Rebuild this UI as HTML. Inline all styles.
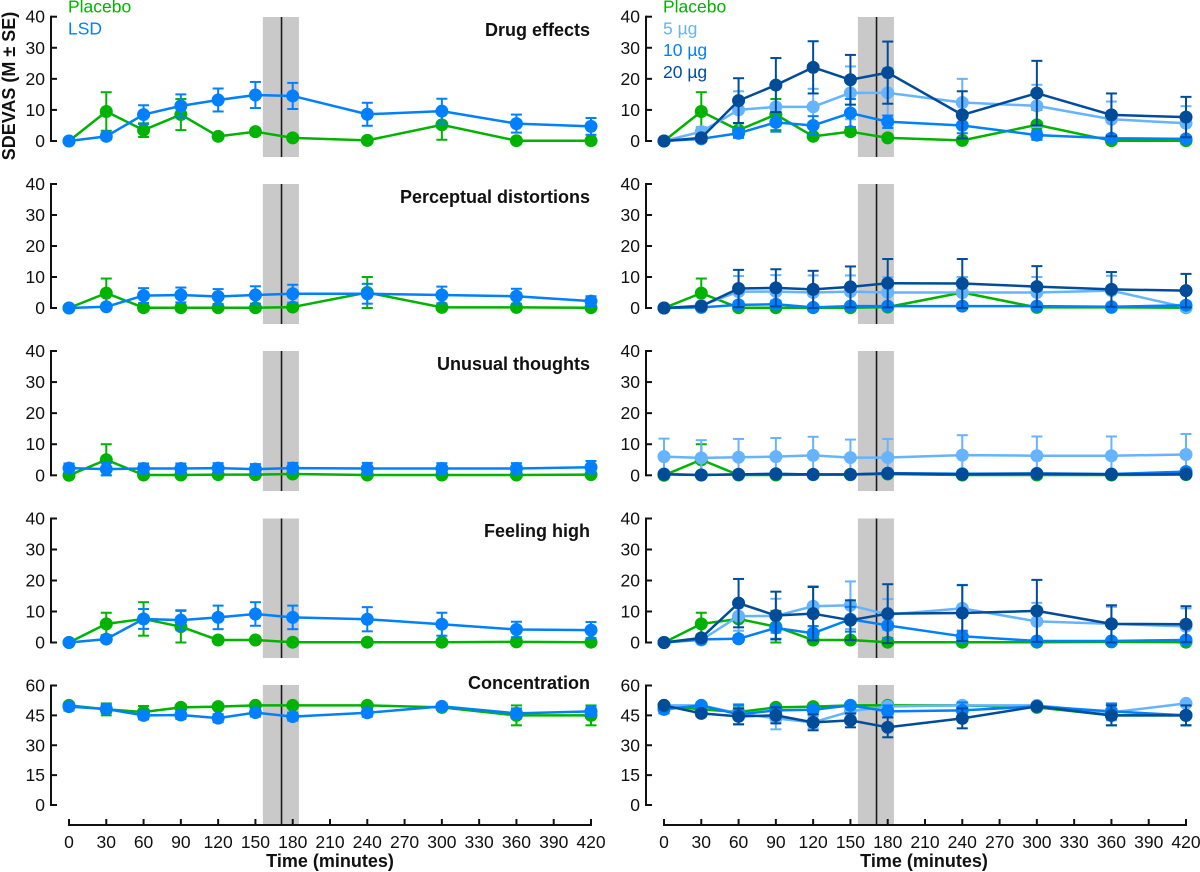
<!DOCTYPE html>
<html lang="en">
<head>
<meta charset="utf-8">
<title>SDEVAS time course</title>
<style>
html,body{margin:0;padding:0;background:#fff;}
svg{display:block;font-family:"Liberation Sans",Arial,sans-serif;}
text{fill:#111;font-size:17.5px;}
.b{font-weight:700;font-size:18px;}
</style>
</head>
<body>
<svg id="chart" xmlns="http://www.w3.org/2000/svg" width="1200" height="872" viewBox="0 0 1200 872">
  <rect x="0" y="0" width="1200" height="872" fill="#fff"/>
  <g id="plots"></g>
  <text class="b" text-anchor="middle" transform="translate(15,86) rotate(-90)">SDEVAS (M ± SE)</text>
  <text x="68" y="12.5" style="fill:#00b300">Placebo</text>
  <text x="68" y="34.5" style="fill:#0080ff">LSD</text>
  <text x="663" y="12.5" style="fill:#00b300">Placebo</text>
  <text x="663" y="34.5" style="fill:#66b3ff">5 µg</text>
  <text x="663" y="56" style="fill:#0080ff">10 µg</text>
  <text x="663" y="78" style="fill:#004c99">20 µg</text>
  <text class="b" text-anchor="end" x="590" y="36">Drug effects</text>
  <text class="b" text-anchor="end" x="590" y="203">Perceptual distortions</text>
  <text class="b" text-anchor="end" x="590" y="370">Unusual thoughts</text>
  <text class="b" text-anchor="end" x="590" y="537">Feeling high</text>
  <text class="b" text-anchor="end" x="590" y="689">Concentration</text>
  <text class="b" text-anchor="middle" x="330" y="867">Time (minutes)</text>
  <text class="b" text-anchor="middle" x="924" y="867">Time (minutes)</text>
</svg>
<script>
// Categories and tick labels
const times = [0, 30, 60, 90, 120, 150, 180, 240, 300, 360, 420];
const xTicks = [0, 30, 60, 90, 120, 150, 180, 210, 240, 270, 300, 330, 360, 390, 420];
const yTicks40 = [0, 10, 20, 30, 40];
const yTicks60 = [0, 15, 30, 45, 60];
const bandStart = 156;
const bandEnd = 185;
const infusionTime = 171;

// Drug effects
const drugPlacebo = [0, 9.5, 3.5, 8.5, 1.5, 3, 1, 0.2, 5.2, 0.1, 0.1];
const drugPlaceboErr = [0, 6.2, 2.2, 5, 0.5, 1, 0.4, 0.2, 4.8, 0.1, 0.1];
const drugLsd = [0, 1.5, 8.5, 11.3, 13.2, 14.8, 14.5, 8.6, 9.6, 5.6, 4.7];
const drugLsdErr = [0, 1, 3, 3.7, 3.7, 4.2, 4.2, 3.7, 4, 2.9, 2.7];
const drug5 = [0, 3, 10, 11, 11, 15.5, 15.5, 12.4, 11.3, 7, 5.7];
const drug5Err = [0, 1.5, 6, 6, 5.8, 8.5, 8, 7.6, 6.8, 5.7, 5.5];
const drug10 = [0, 0.7, 2.5, 6, 5, 9, 6.2, 5, 1.9, 0.9, 0.7];
const drug10Err = [0, 0.5, 1.5, 3, 3, 4.5, 2, 2.5, 1.5, 1, 0.7];
const drug20 = [0, 1, 13, 18, 23.7, 19.7, 22, 8.4, 15.4, 8.4, 7.7];
const drug20Err = [0, 1, 7.2, 8.7, 8.4, 8, 10, 7.6, 10.4, 6.9, 6.5];

// Perceptual distortions
const percPlacebo = [0, 4.8, 0.1, 0.1, 0.1, 0.1, 0.3, 5, 0.2, 0.2, 0.1];
const percPlaceboErr = [0, 4.7, 0, 0, 0, 0, 0.3, 5, 0.2, 0.2, 0.1];
const percLsd = [0, 0.4, 4, 4.2, 3.7, 4.2, 4.6, 4.6, 4.2, 3.8, 2.2];
const percLsdErr = [0, 0.5, 2.4, 2.4, 2.4, 2.8, 2.9, 3.2, 2.7, 2.4, 1.6];
const perc5 = [0, 0.8, 5.3, 5.3, 5, 5.3, 5, 5, 5, 5.6, 0.2];
const perc5Err = [0, 0.5, 5, 5.3, 5.5, 5.2, 5, 5, 5, 4.8, 0.3];
const perc10 = [0, 0.2, 1, 1.2, 0.2, 0.6, 0.6, 0.6, 0.6, 0.4, 0.9];
const perc10Err = [0, 0.2, 1, 1.2, 0.3, 0.6, 0.6, 0.8, 0.6, 0.4, 0.9];
const perc20 = [0, 0.6, 6.3, 6.5, 6, 6.8, 8, 7.9, 6.9, 6, 5.6];
const perc20Err = [0, 0.6, 6, 6, 6, 6.6, 7.8, 7.9, 6.6, 5.6, 5.4];

// Unusual thoughts
const unusPlacebo = [0, 5, 0.1, 0.1, 0.2, 0.2, 0.4, 0.1, 0.1, 0.1, 0.2];
const unusPlaceboErr = [0, 5, 0, 0, 0, 0, 0, 0, 0, 0, 0];
const unusLsd = [2.3, 2, 2.2, 2.2, 2.3, 2, 2.3, 2.2, 2.2, 2.2, 2.6];
const unusLsdErr = [1.5, 2, 1.6, 1.6, 1.6, 1.6, 1.7, 1.8, 1.7, 1.7, 2];
const unus5 = [6, 5.6, 5.8, 6, 6.4, 5.7, 5.7, 6.5, 6.3, 6.3, 6.7];
const unus5Err = [5.8, 5.7, 5.9, 6, 6, 5.8, 6, 6.4, 6.2, 6.2, 6.6];
const unus10 = [0.4, 0.1, 0.3, 0.5, 0.2, 0.2, 0.7, 0.5, 0.6, 0.4, 1.2];
const unus10Err = [0.3, 0.1, 0.3, 0.5, 0.2, 0.2, 0.7, 0.5, 0.6, 0.4, 0.9];
const unus20 = [0.3, 0.1, 0.3, 0.4, 0.3, 0.3, 0.6, 0.3, 0.5, 0.3, 0.4];
const unus20Err = [0.3, 0.1, 0.3, 0.4, 0.3, 0.3, 0.5, 0.3, 0.5, 0.3, 0.4];

// Feeling high
const highPlacebo = [0, 6, 7.6, 5.1, 0.8, 0.8, 0.1, 0.1, 0.1, 0.2, 0.1];
const highPlaceboErr = [0, 3.6, 5.4, 5.1, 0.3, 0.3, 0.1, 0, 0, 0, 0];
const highLsd = [0, 1.1, 7.6, 7.2, 8.1, 9.2, 8.1, 7.5, 5.9, 4.2, 4];
const highLsdErr = [0, 1, 3.2, 3.2, 3.8, 3.8, 3.8, 3.9, 3.7, 2.5, 2.6];
const high5 = [0, 0.8, 8.5, 8.6, 11.7, 12, 9, 11, 6.8, 6, 5.2];
const high5Err = [0, 0.6, 4.7, 5.5, 6.5, 7.7, 5, 7.6, 6, 5.5, 5.8];
const high10 = [0, 1, 1.2, 4.7, 3, 7.5, 5.5, 2, 0.5, 0.5, 0.8];
const high10Err = [0, 0.5, 1, 3.5, 2.3, 4, 4, 1.8, 0.5, 0.5, 0.8];
const high20 = [0, 1.5, 12.7, 8.7, 9.3, 7.2, 9.3, 9.5, 10.2, 6, 5.9];
const high20Err = [0, 1, 7.8, 7.7, 8.6, 6.4, 9.5, 9, 10, 6, 5.8];

// Concentration
const concPlacebo = [50, 48, 46.7, 49, 49.4, 50, 50, 50, 49, 45, 45];
const concPlaceboErr = [0.5, 3, 3, 1, 1, 1, 1, 1, 1, 5, 5];
const concLsd = [49.4, 48.2, 45, 45.2, 43.6, 46.4, 44.4, 46.3, 49.5, 46, 47];
const concLsdErr = [2, 2, 2, 2, 2, 2, 2, 2, 1.5, 2.5, 2.5];
const conc5 = [50, 50, 46, 43.5, 41.5, 47, 49.5, 50, 50, 46.5, 51];
const conc5Err = [1, 1, 3, 5.5, 3, 3, 1, 1, 1, 4, 1];
const conc10 = [48, 50, 45.5, 47.5, 47.8, 50, 47, 47.5, 49.5, 47, 45];
const conc10Err = [2, 1, 5, 2, 2, 1, 3, 4, 1, 4, 5];
const conc20 = [50, 46, 44.5, 45, 41.5, 42.5, 39, 43.5, 49.5, 45, 45];
const conc20Err = [1, 1.5, 4, 4, 4, 3.5, 5, 5, 1, 5, 5];

const greenColor = '#00b300';
const lightColor = '#66b3ff';
const midColor = '#0080ff';
const darkColor = '#004c99';

const NS = 'http://www.w3.org/2000/svg';
const root = document.getElementById('plots');

function make(tag, parent, props) {
  const el = document.createElementNS(NS, tag);
  for (const k in props) el.setAttribute(k, props[k]);
  parent.appendChild(el);
  return el;
}
function drawLine(parent, x1, y1, x2, y2, color, w, name) {
  const el = make('line', parent, {x1: x1, y1: y1, x2: x2, y2: y2, stroke: color, 'stroke-width': w});
  
  
  return el;
}

function drawSeries(parent, xScale, yScale, values, errors, color, name) {
  const g = make('g', parent, {});
  
  
  values.forEach(function (v, i) {
    const x = xScale(times[i]);
    const hi = yScale(v + errors[i]);
    const lo = yScale(v - errors[i]);
    if (errors[i] > 0) {
      drawLine(g, x, hi, x, lo, color, 2, 'error-bar-' + name);
      drawLine(g, x - 5.5, hi, x + 5.5, hi, color, 2, 'error-cap-' + name);
      drawLine(g, x - 5.5, lo, x + 5.5, lo, color, 2, 'error-cap-' + name);
    }
  });
  const pts = values.map(function (v, i) { return xScale(times[i]) + ',' + yScale(v); }).join(' ');
  const path = make('polyline', g, {points: pts, fill: 'none', stroke: color, 'stroke-width': 2.5, 'stroke-linejoin': 'round'});
  
  
  values.forEach(function (v, i) {
    const c = make('circle', g, {cx: xScale(times[i]), cy: yScale(v), r: 6.5, fill: color});
    
    
  });
}

function drawPanel(name, column, top, base, bandTop, bandBottom, maxVal, ticks, seriesList) {
  const x0 = column === 0 ? 69 : 664;
  const axisX = x0 - 18;
  const xScale = function (t) { return x0 + t * 522 / 420; };
  const yScale = function (v) { return base - v * (base - top) / maxVal; };
  const g = make('g', root, {});
  
  

  const band = make('rect', g, {x: xScale(bandStart), y: bandTop, width: xScale(bandEnd) - xScale(bandStart), height: bandBottom - bandTop, fill: '#c9c9c9'});
  
  
  drawLine(g, xScale(infusionTime), bandTop, xScale(infusionTime), bandBottom, '#1a1a1a', 1.6, 'reference-line');

  drawLine(g, axisX, top - 1, axisX, base + 1, '#111', 2, 'y-axis-line');
  ticks.forEach(function (t) {
    drawLine(g, axisX, yScale(t), axisX + 6, yScale(t), '#111', 2, 'y-tick');
    const label = make('text', g, {x: axisX - 6, y: yScale(t) + 6, 'text-anchor': 'end'});
    
    
    label.textContent = t;
  });

  seriesList.forEach(function (s) {
    drawSeries(g, xScale, yScale, s[0], s[1], s[2], s[3]);
  });
}

function drawXAxis(column) {
  const x0 = column === 0 ? 69 : 664;
  const xScale = function (t) { return x0 + t * 522 / 420; };
  const g = make('g', root, {});
  
  
  drawLine(g, xScale(0) - 1, 825, xScale(420) + 1, 825, '#111', 2, 'x-axis-line');
  xTicks.forEach(function (t) {
    drawLine(g, xScale(t), 819, xScale(t), 825, '#111', 2, 'x-tick');
    const label = make('text', g, {x: xScale(t), y: 848, 'text-anchor': 'middle'});
    
    
    label.textContent = t;
  });
}

drawPanel('drug-effects-groups', 0, 16.7, 141, 17, 157, 40, yTicks40, [
  [drugPlacebo, drugPlaceboErr, greenColor, 'placebo'],
  [drugLsd, drugLsdErr, midColor, 'lsd']]);
drawPanel('drug-effects-doses', 1, 16.7, 141, 17, 157, 40, yTicks40, [
  [drugPlacebo, drugPlaceboErr, greenColor, 'placebo'],
  [drug5, drug5Err, lightColor, '5ug'],
  [drug10, drug10Err, midColor, '10ug'],
  [drug20, drug20Err, darkColor, '20ug']]);
drawPanel('perceptual-groups', 0, 184, 308, 184, 324, 40, yTicks40, [
  [percPlacebo, percPlaceboErr, greenColor, 'placebo'],
  [percLsd, percLsdErr, midColor, 'lsd']]);
drawPanel('perceptual-doses', 1, 184, 308, 184, 324, 40, yTicks40, [
  [percPlacebo, percPlaceboErr, greenColor, 'placebo'],
  [perc5, perc5Err, lightColor, '5ug'],
  [perc10, perc10Err, midColor, '10ug'],
  [perc20, perc20Err, darkColor, '20ug']]);
drawPanel('unusual-groups', 0, 351, 475.3, 351, 491, 40, yTicks40, [
  [unusPlacebo, unusPlaceboErr, greenColor, 'placebo'],
  [unusLsd, unusLsdErr, midColor, 'lsd']]);
drawPanel('unusual-doses', 1, 351, 475.3, 351, 491, 40, yTicks40, [
  [unusPlacebo, unusPlaceboErr, greenColor, 'placebo'],
  [unus5, unus5Err, lightColor, '5ug'],
  [unus10, unus10Err, midColor, '10ug'],
  [unus20, unus20Err, darkColor, '20ug']]);
drawPanel('high-groups', 0, 518.5, 642.5, 518.5, 658, 40, yTicks40, [
  [highPlacebo, highPlaceboErr, greenColor, 'placebo'],
  [highLsd, highLsdErr, midColor, 'lsd']]);
drawPanel('high-doses', 1, 518.5, 642.5, 518.5, 658, 40, yTicks40, [
  [highPlacebo, highPlaceboErr, greenColor, 'placebo'],
  [high5, high5Err, lightColor, '5ug'],
  [high10, high10Err, midColor, '10ug'],
  [high20, high20Err, darkColor, '20ug']]);
drawPanel('concentration-groups', 0, 685.5, 805, 685, 825, 60, yTicks60, [
  [concPlacebo, concPlaceboErr, greenColor, 'placebo'],
  [concLsd, concLsdErr, midColor, 'lsd']]);
drawPanel('concentration-doses', 1, 685.5, 805, 685, 825, 60, yTicks60, [
  [concPlacebo, concPlaceboErr, greenColor, 'placebo'],
  [conc5, conc5Err, lightColor, '5ug'],
  [conc10, conc10Err, midColor, '10ug'],
  [conc20, conc20Err, darkColor, '20ug']]);
drawXAxis(0);
drawXAxis(1);
</script>
</body>
</html>
